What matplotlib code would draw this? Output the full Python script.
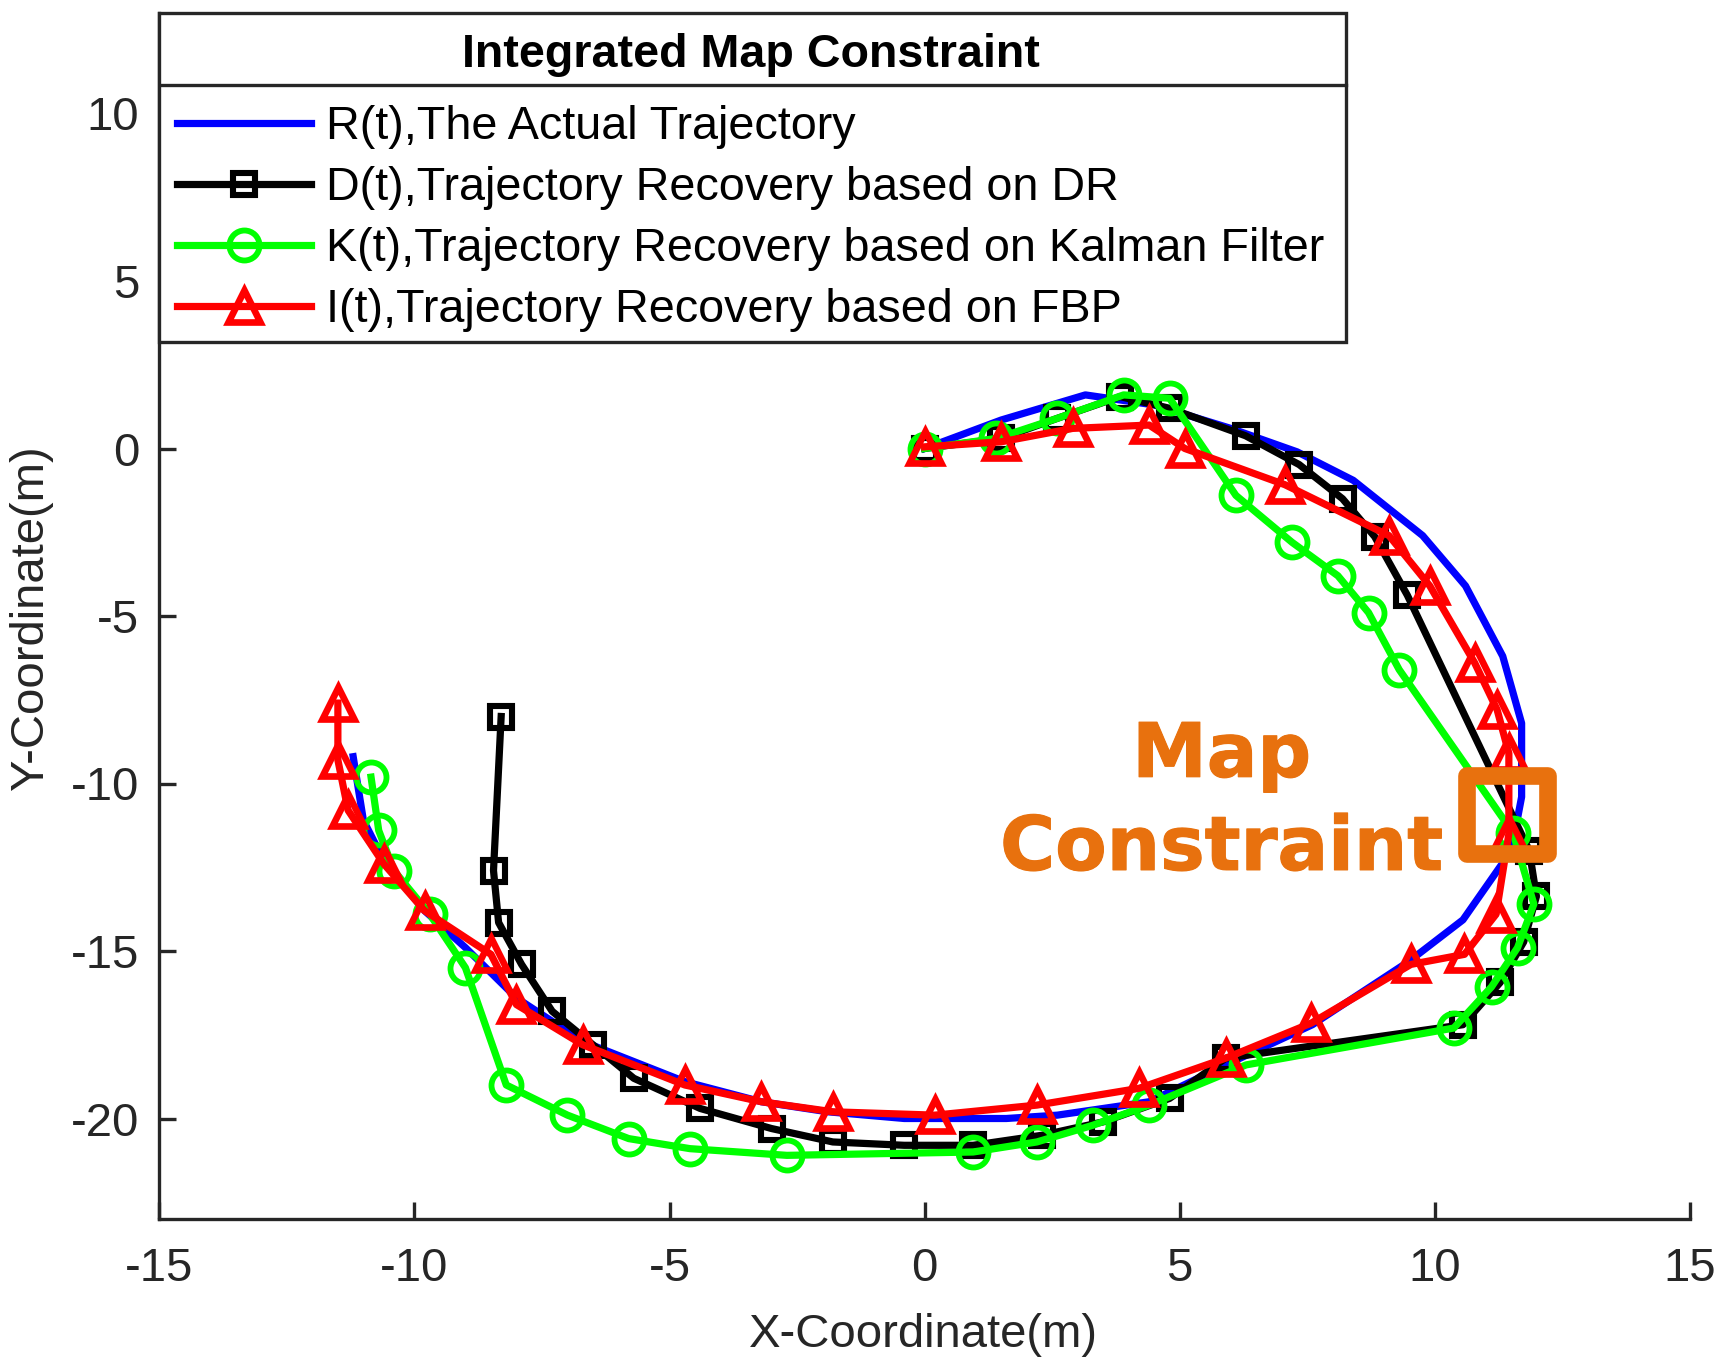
import matplotlib
matplotlib.use("Agg")
import matplotlib.pyplot as plt
from matplotlib.patches import Rectangle
import matplotlib.patheffects as pe

plt.rcParams['font.family'] = ['Liberation Sans', 'DejaVu Sans']
plt.rcParams['axes.unicode_minus'] = False

# actual trajectory
rx = [0, 1.5, 3.15, 4.5, 6, 7.3, 8.4, 9.76, 10.6, 11.33, 11.7, 11.7, 11.5, 10.55, 9.5, 7.6, 5.9, 4.4,
      2.6, 1.6, -0.4, -1.9, -3.2, -4.7, -6.7, -8, -9, -9.8, -10.6, -11, -11.2]
ry = [0, 0.85, 1.6, 1.3, 0.6, -0.1, -0.95, -2.6, -4.1, -6.2, -8.2, -10.4, -12, -14.07, -15.3, -17.2, -18.4, -19.5,
      -19.9, -20, -20, -19.8, -19.5, -18.9, -17.7, -16.4, -14.9, -13.8, -12.3, -11.1, -9.2]

# DR
dx = [0, 1.5, 2.6, 3.83, 4.8, 6.29, 7.34, 8.19, 8.82, 9.46, 11.85, 11.99, 11.74, 11.28, 10.55, 5.9, 4.8, 3.5,
      2.3, 0.95, -0.4, -1.8, -3, -4.4, -5.7, -6.5, -7.3, -7.9, -8.35, -8.45, -8.3]
dy = [0, 0.3, 0.9, 1.55, 1.2, 0.38, -0.48, -1.5, -2.63, -4.38, -12, -13.37, -14.73, -15.94, -17.2, -18.2, -19.4, -20.1,
      -20.5, -20.8, -20.8, -20.7, -20.3, -19.7, -18.8, -17.8, -16.8, -15.4, -14.15, -12.6, -8]

# Kalman
kx = [0, 1.4, 2.6, 3.9, 4.8, 6.1, 7.2, 8.1, 8.7, 9.3, 11.53, 11.94, 11.62, 11.11, 10.37, 6.3, 4.4, 3.3,
      2.2, 0.95, -2.7, -4.6, -5.8, -7, -8.2, -9, -9.7, -10.4, -10.7, -10.85]
ky = [0, 0.3, 0.9, 1.6, 1.5, -1.4, -2.8, -3.8, -4.9, -6.6, -11.47, -13.6, -14.9, -16.07, -17.3, -18.4, -19.6, -20.2,
      -20.7, -21, -21.1, -20.9, -20.6, -19.9, -19, -15.5, -13.9, -12.6, -11.4, -9.81]

# FBP
ix = [0, 1.5, 2.9, 4.4, 5.1, 7.06, 9.1, 9.9, 10.78, 11.22, 11.45, 11.45, 11.2, 10.58, 9.53, 7.58, 5.9, 4.2,
      2.2, 0.2, -1.8, -3.2, -4.7, -6.7, -8, -8.5, -9.8, -10.6, -11.3, -11.5, -11.5]
iy = [0.05, 0.2, 0.6, 0.7, 0, -1.08, -2.6, -4.1, -6.4, -7.8, -9.1, -11.5, -13.9, -15.1, -15.4, -17.15, -18.2, -19.1,
      -19.6, -19.9, -19.8, -19.5, -19, -17.8, -16.6, -15.1, -13.8, -12.4, -10.8, -9.3, -7.6]

xticks = [-15, -10, -5, 0, 5, 10, 15]
yticks = [-20, -15, -10, -5, 0, 5, 10]
orange = '#E8710E'
dark = '#262626'

W, H = 1728, 1370
L, R, T, B = 159.3, 1690, 13, 1219

fig = plt.figure(figsize=(W / 100, H / 100), dpi=100)
ax = fig.add_axes([L / W, 1 - B / H, (R - L) / W, (B - T) / H])

lw = 5.2
ax.plot(rx, ry, color='#0000FF', lw=lw, label='R(t),The Actual Trajectory')
ax.plot(dx, dy, color='k', lw=lw, marker='s', ms=16.5, mew=4.4, mfc='none', label='D(t),Trajectory Recovery based on DR')
ax.plot(kx, ky, color='#00FF00', lw=lw, marker='o', ms=21.6, mew=4.2, mfc='none',
        label='K(t),Trajectory Recovery based on Kalman Filter')
ax.plot(ix, iy, color='#FF0000', lw=lw, marker='^', ms=23, mew=4.8, mfc='none',
        label='I(t),Trajectory Recovery based on FBP')

ax.set_xlim(-15, 15)
ax.set_ylim(-23, 13)
ax.set_xticks(xticks)
ax.set_yticks(yticks)
ax.tick_params(direction='in', length=12, width=2.4, labelsize=34, colors=dark)
ax.tick_params(axis='x', pad=20.5)
ax.tick_params(axis='y', pad=14.5)
ax.spines['top'].set_visible(False)
ax.spines['right'].set_visible(False)
for side in ['left', 'bottom']:
    ax.spines[side].set_linewidth(2.4)
    ax.spines[side].set_color(dark)
ax.set_xlabel('X-Coordinate(m)', fontsize=34, color=dark)
ax.set_ylabel('Y-Coordinate(m)', fontsize=34, color=dark)
ax.xaxis.set_label_coords((923 - L) / (R - L), 1 - (1335 - T) / (B - T), transform=ax.transAxes)
ax.yaxis.set_label_coords((31 - L) / (R - L), 1 - (618 - T) / (B - T), transform=ax.transAxes)
ax.xaxis.label.set_va('center')
ax.yaxis.label.set_va('center')

# legend box, drawn by hand because of the title row
fx = lambda px: (px - L) / (R - L)
fy = lambda py: 1 - (py - T) / (B - T)
ax.add_patch(Rectangle((0, fy(342)), fx(1346), fy(12.7) - fy(342), transform=ax.transAxes, facecolor='white',
                       edgecolor=dark, lw=2.4, zorder=4, clip_on=False))
ax.plot([0, fx(1346)], [fy(85.3), fy(85.3)], transform=ax.transAxes, color=dark, lw=2.4, zorder=5)
ax.text(fx(751), fy(55), 'Integrated Map Constraint', transform=ax.transAxes, fontsize=33.6, fontweight='bold',
        ha='center', va='center', color='k', zorder=6)

leg = ax.legend(loc='upper left', bbox_to_anchor=(fx(176.6), fy(105)), borderaxespad=0, borderpad=0, fontsize=33.7,
                frameon=False, handlelength=2.88, handletextpad=0.32, labelspacing=0.365)
leg.set_zorder(6)

# map constraint marker
ax.add_patch(Rectangle((10.63, -12.1), 1.58, 2.33, fill=False, edgecolor=orange, lw=12.7, joinstyle='round', zorder=7))
heavy = [pe.withStroke(linewidth=0.8, foreground=orange)]
ax.text(5.82, -9.8, 'Map', color=orange, family='DejaVu Sans', fontsize=54, fontweight='bold', ha='center',
        va='baseline', zorder=7, path_effects=heavy)
ax.text(5.82, -12.58, 'Constraint', color=orange, family='DejaVu Sans', fontsize=54, fontweight='bold', ha='center',
        va='baseline', zorder=7, path_effects=heavy)

fig.savefig('out.png', dpi=100)
